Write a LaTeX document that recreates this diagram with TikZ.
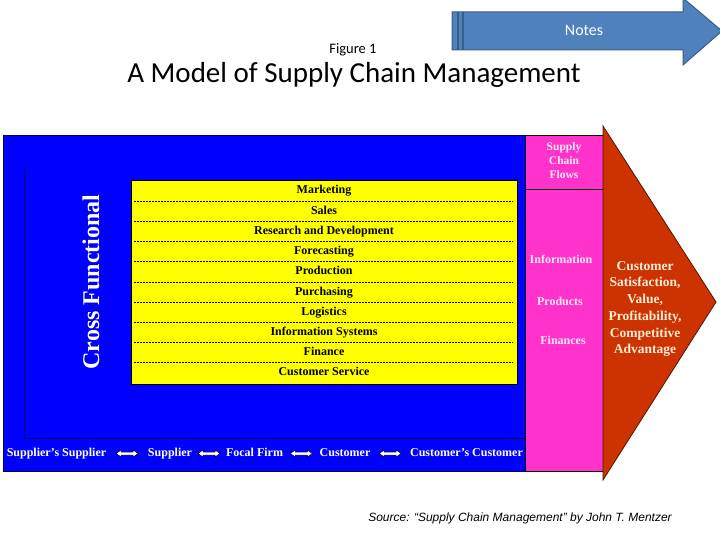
\documentclass[tikz,border=0pt]{standalone}
\usepackage{fontspec}
\setmainfont{Liberation Serif}
\newfontfamily\calfont{Carlito}
\newfontfamily\arialfont{Liberation Sans}
\usetikzlibrary{calc}
\definecolor{blueM}{RGB}{0,0,255}
\definecolor{navyM}{RGB}{0,0,90}
\definecolor{yellowM}{RGB}{255,255,0}
\definecolor{pinkM}{RGB}{255,51,204}
\definecolor{redM}{RGB}{204,51,0}
\definecolor{notesFill}{RGB}{79,129,189}
\definecolor{notesEdge}{RGB}{56,93,138}
\definecolor{pinkText}{RGB}{255,235,250}
\definecolor{redText}{RGB}{255,238,215}
\tikzset{
  rowlabel/.style={anchor=base, inner sep=0pt, font=\bfseries\fontsize{12}{14}\selectfont},
  chainlabel/.style={anchor=base, inner sep=0pt, text=white, text height=8.5pt, text depth=2.5pt,
    font=\bfseries\fontsize{12}{14}\selectfont},
  flowlabel/.style={anchor=base, inner sep=0pt, text=pinkText, font=\bfseries\fontsize{12}{14}\selectfont},
  dblarr/.pic={\draw[fill=white, draw=black, line width=0.5pt]
    (-11,0) -- (-6,-3.5) -- (-6,-1.5) -- (6,-1.5) -- (6,-3.5) -- (11,0) -- (6,3.5) -- (6,1.5)
    -- (-6,1.5) -- (-6,3.5) -- cycle;},
  sepline/.style={black, line width=0.5pt, dash pattern=on 2pt off 1pt}
}
\begin{document}
\begin{tikzpicture}[x=1pt,y=-1pt]
\useasboundingbox (0,0) rectangle (720,540);

% Notes arrow
\draw[fill=notesFill, draw=notesEdge, line width=1pt]
  (452,12) -- (683,12) -- (683,-2) -- (722,31) -- (683,65) -- (683,50) -- (452,50) -- cycle;
\draw[notesEdge, line width=1.2pt] (458,12) -- (458,50);
\draw[notesEdge, line width=1.2pt] (463,12) -- (463,50);
\node[anchor=base, text=white, font=\calfont\fontsize{16}{18}\selectfont] (notes) at (584,35.5) {Notes};

% Titles
\node[anchor=base, font=\calfont\fontsize{14.5}{16}\selectfont] (fig) at (353,54) {Figure 1};
\node[anchor=base, font=\calfont\fontsize{29}{32}\selectfont] (title) at (354,83) {A Model of Supply Chain Management};

% Blue area
\draw[fill=blueM, draw=navyM, line width=0.6pt] (3,135) rectangle (525,471);
\draw[navyM, line width=1pt] (24,168) -- (24,438) -- (525,438);

% Pink column
\draw[fill=pinkM, draw=black, line width=0.6pt] (525,135) rectangle (603,471);
\draw[black, line width=0.6pt] (525,189) -- (603,189);

% Red arrow
\draw[fill=redM, draw=black!60!redM, line width=0.8pt] (603,126) -- (716,302) -- (603,480) -- cycle;

% Yellow box
\draw[fill=yellowM, draw=black, line width=0.6pt] (131,180) rectangle (517,384);
\foreach \k in {0,...,8} {
  \draw[sepline] (134,{201+20.2*\k}) -- (513,{201+20.2*\k});
}
\foreach \t [count=\i] in {Marketing, Sales, Research and Development, Forecasting, Production,
  Purchasing, Logistics, Information Systems, Finance, Customer Service} {
  \node[rowlabel] (r\i) at (324,{194+20.2*(\i-1)}) {\t};
}

% Cross Functional
\node[rotate=90, text=white, inner sep=0pt, font=\bfseries\fontsize{24}{27}\selectfont] (cf) at (91,282) {Cross Functional};

% Chain labels
\node[chainlabel] (ss) at (56.5,456.5) {Supplier’s Supplier};
\node[chainlabel] (s) at (170,456.5) {Supplier};
\node[chainlabel] (ff) at (254.5,456.5) {Focal Firm};
\node[chainlabel] (c) at (345,456.5) {Customer};
\node[chainlabel] (cc) at (466.5,456.5) {Customer’s Customer};
\pic at ($(ss.east)!0.5!(s.west)$) {dblarr};
\pic at ($(s.east)!0.5!(ff.west)$) {dblarr};
\pic at ($(ff.east)!0.5!(c.west)$) {dblarr};
\pic at ($(c.east)!0.5!(cc.west)$) {dblarr};

% Flows
\node[align=center, inner sep=0pt, text=pinkText, font=\bfseries\fontsize{11.5}{14}\selectfont] (scf) at (564,160.8) {Supply\\Chain\\Flows};
\node[flowlabel] (inf) at (561,263.5) {Information};
\node[flowlabel] (prod) at (560,305.5) {Products};
\node[flowlabel] (fin) at (563,344) {Finances};

% Outcome
\node[align=center, inner sep=0pt, text=redText, font=\bfseries\fontsize{13.5}{16.7}\selectfont] (out) at (645,309)
  {Customer\\Satisfaction,\\Value,\\Profitability,\\Competitive\\Advantage};

% Source
\node[anchor=base, font=\arialfont\itshape\fontsize{12}{14}\selectfont] (src) at (520,521)
  {Source: “Supply Chain Management” by John T. Mentzer};
\end{tikzpicture}
\end{document}
